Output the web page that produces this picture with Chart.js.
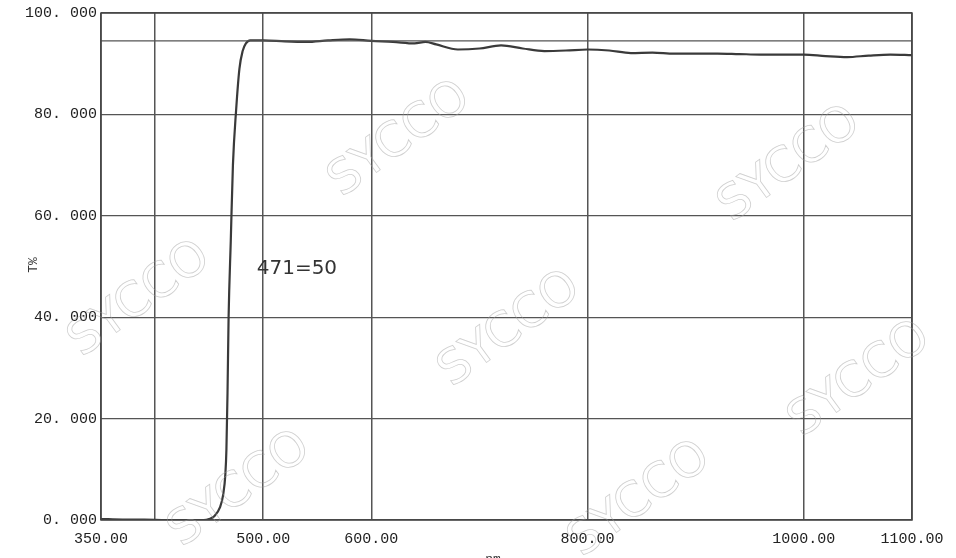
<!DOCTYPE html>
<html>
<head>
<meta charset="utf-8">
<script src="https://cdn.jsdelivr.net/npm/chart.js@4/dist/chart.umd.min.js"></script>
<style>
  html, body { margin: 0; padding: 0; background: #fff; }
  #wrap { width: 956px; height: 558px; }
</style>
</head>
<body>
<div id="wrap"><canvas id="chart"></canvas></div>
<script>
// wavelength (nm) and transmission (%)
const wavelengths = [350, 370, 390, 410, 430, 445, 450, 455, 460, 463, 465, 466, 467, 468, 470, 472, 475, 478, 481, 484, 488,
  500, 520, 540, 560, 580, 600, 620, 640, 650, 660, 680, 700, 720, 740, 760, 780, 800, 820, 840, 860, 880,
  900, 920, 940, 960, 980, 1000, 1020, 1040, 1060, 1080, 1100];
const transmission = [0.2, 0.1, 0.1, 0, 0, 0, 0.2, 0.8, 2.5, 5, 9, 14, 25, 40, 55, 70, 81, 89, 92.5, 94, 94.6,
  94.6, 94.4, 94.3, 94.6, 94.8, 94.5, 94.3, 94.0, 94.3, 93.8, 92.8, 93.0, 93.6, 93.0, 92.5, 92.6, 92.8, 92.6, 92.1, 92.2, 92.0,
  92.0, 92.0, 91.9, 91.8, 91.8, 91.8, 91.5, 91.3, 91.6, 91.8, 91.7];
const xTicks = [350, 400, 500, 600, 800, 1000, 1100];
const xLabels = ['350.00', '', '500.00', '600.00', '800.00', '1000.00', '1100.00'];
const yTicks = [0, 20, 40, 60, 80, 100];
const yLabels = ['0. 000', '20. 000', '40. 000', '60. 000', '80. 000', '100. 000'];
const refLevel = 94.5;

const tickFont = { family: 'Liberation Mono', size: 15 };

const overlay = {
  id: 'overlay',
  afterDraw(chart) {
    const { ctx, chartArea: a, scales } = chart;
    ctx.save();
    // reference line
    const y = scales.y.getPixelForValue(refLevel);
    ctx.strokeStyle = '#555';
    ctx.lineWidth = 1.2;
    ctx.beginPath(); ctx.moveTo(a.left, y); ctx.lineTo(a.right, y); ctx.stroke();
    // frame
    ctx.strokeStyle = '#444';
    ctx.lineWidth = 1.5;
    ctx.strokeRect(a.left, a.top, a.right - a.left, a.bottom - a.top);
    // annotation
    ctx.fillStyle = '#333';
    ctx.font = '20px "DejaVu Sans"';
    ctx.textBaseline = 'middle';
    ctx.fillText('471=50', scales.x.getPixelForValue(494), scales.y.getPixelForValue(49.5));
    // axis titles
    ctx.font = '13px "Liberation Mono"';
    ctx.save();
    ctx.translate(34, 265);
    ctx.rotate(-Math.PI / 2);
    ctx.textAlign = 'center';
    ctx.fillText('T%', 0, 0);
    ctx.restore();
    ctx.textAlign = 'center';
    ctx.fillText('nm', 493, 560);
    // watermarks
    ctx.strokeStyle = 'rgba(160,160,160,0.5)';
    ctx.lineWidth = 0.8;
    ctx.font = '48px "DejaVu Sans"';
    [[400, 140], [790, 165], [510, 330], [140, 300], [640, 500], [240, 490], [860, 380]].forEach(([px, py]) => {
      ctx.save(); ctx.translate(px, py); ctx.rotate(-Math.PI / 5);
      ctx.strokeText('SYCCO', 0, 0); ctx.restore();
    });
    ctx.restore();
  }
};

new Chart(document.getElementById('chart'), {
  type: 'line',
  data: {
    datasets: [{
      data: wavelengths.map((w, i) => ({ x: w, y: transmission[i] })),
      borderColor: '#3a3a3a',
      borderWidth: 2.2,
      pointRadius: 0,
      cubicInterpolationMode: 'monotone'
    }]
  },
  options: {
    responsive: true,
    maintainAspectRatio: false,
    animation: false,
    layout: { padding: { top: 12, right: 44, left: 0, bottom: 0 } },
    plugins: { legend: { display: false }, tooltip: { enabled: false } },
    scales: {
      x: {
        type: 'linear', min: 350, max: 1100,
        afterBuildTicks: s => { s.ticks = xTicks.map(v => ({ value: v })); },
        afterFit: s => { s.height = 38; },
        ticks: {
          color: '#222', font: tickFont, maxRotation: 0, autoSkip: false, padding: 10,
          callback: (v, i) => xLabels[i]
        },
        grid: { color: '#555', lineWidth: 1.5, drawTicks: false },
        border: { display: false }
      },
      y: {
        min: 0, max: 100,
        afterBuildTicks: s => { s.ticks = yTicks.map(v => ({ value: v })); },
        afterFit: s => { s.width = 101; },
        ticks: {
          color: '#222', font: tickFont, padding: 4,
          callback: (v, i) => yLabels[i]
        },
        grid: { color: '#555', lineWidth: 1.2, drawTicks: false },
        border: { display: false }
      }
    }
  },
  plugins: [overlay]
});
</script>
</body>
</html>
